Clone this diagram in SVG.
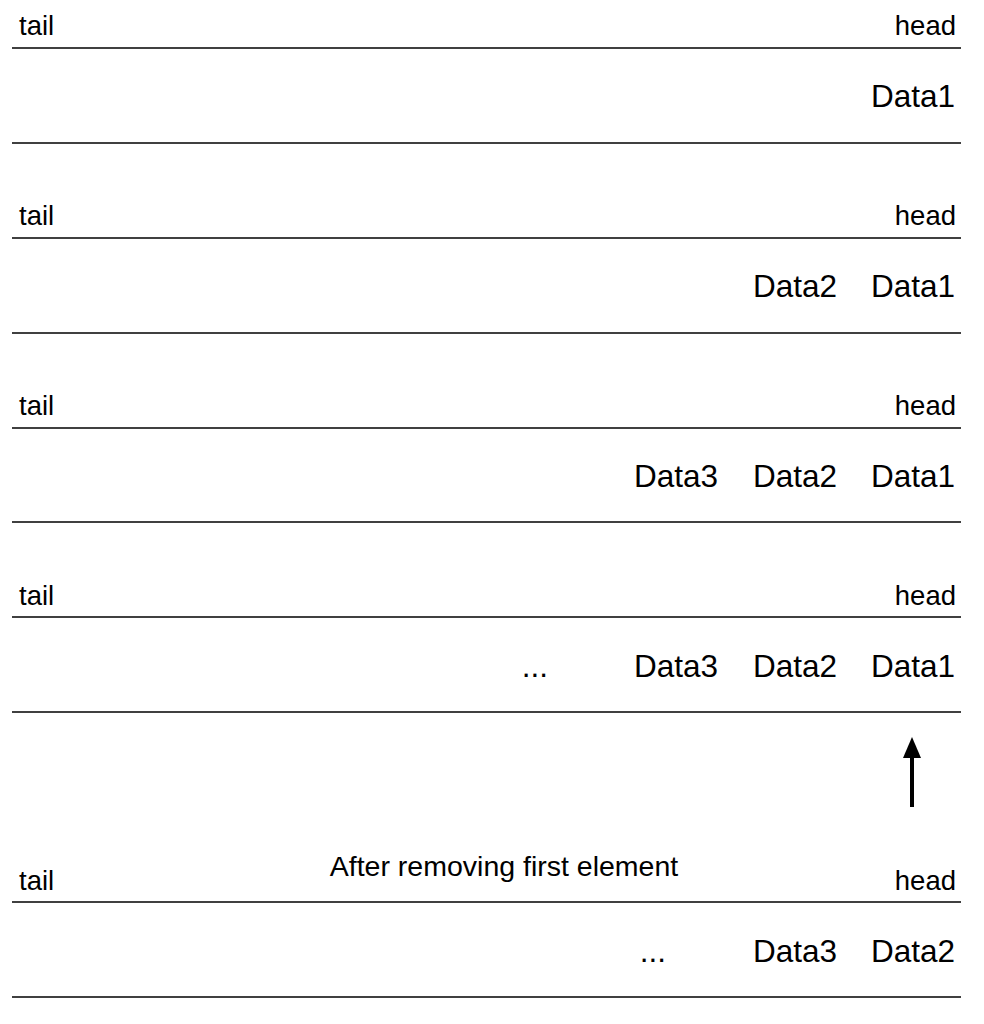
<svg xmlns="http://www.w3.org/2000/svg" width="984" height="1024" viewBox="0 0 984 1024">
<style>
.ln{stroke:#000;stroke-width:1.5}
.lbl{font-family:"Liberation Sans",Arial,sans-serif;font-size:27.5px;fill:#000}
.dat{font-family:"Liberation Sans",Arial,sans-serif;font-size:31.5px;fill:#000;text-anchor:end}
.e{text-anchor:end}
.cap{font-family:"Liberation Sans",Arial,sans-serif;font-size:28.5px;fill:#000;text-anchor:middle}
</style>
<rect width="984" height="1024" fill="#fff"/>
<g id="row1">
<line class="ln" x1="12" y1="48" x2="961" y2="48"/>
<line class="ln" x1="12" y1="143" x2="961" y2="143"/>
<text class="lbl" x="19" y="35">tail</text>
<text class="lbl e" x="956" y="35">head</text>
<text class="dat" x="955" y="107">Data1</text>
</g>
<g id="row2">
<line class="ln" x1="12" y1="238" x2="961" y2="238"/>
<line class="ln" x1="12" y1="333" x2="961" y2="333"/>
<text class="lbl" x="19" y="225">tail</text>
<text class="lbl e" x="956" y="225">head</text>
<text class="dat" x="955" y="297">Data1</text>
<text class="dat" x="837" y="297">Data2</text>
</g>
<g id="row3">
<line class="ln" x1="12" y1="428" x2="961" y2="428"/>
<line class="ln" x1="12" y1="522" x2="961" y2="522"/>
<text class="lbl" x="19" y="415">tail</text>
<text class="lbl e" x="956" y="415">head</text>
<text class="dat" x="955" y="487">Data1</text>
<text class="dat" x="837" y="487">Data2</text>
<text class="dat" x="718" y="487">Data3</text>
</g>
<g id="row4">
<line class="ln" x1="12" y1="617" x2="961" y2="617"/>
<line class="ln" x1="12" y1="712" x2="961" y2="712"/>
<text class="lbl" x="19" y="605">tail</text>
<text class="lbl e" x="956" y="605">head</text>
<text class="dat" x="955" y="677">Data1</text>
<text class="dat" x="837" y="677">Data2</text>
<text class="dat" x="718" y="677">Data3</text>
<text class="dat" x="548" y="677">...</text>
</g>
<g id="row5">
<line class="ln" x1="12" y1="902" x2="961" y2="902"/>
<line class="ln" x1="12" y1="997" x2="961" y2="997"/>
<text class="lbl" x="19" y="890">tail</text>
<text class="lbl e" x="956" y="890">head</text>
<text class="cap" x="504" y="876">After removing first element</text>
<text class="dat" x="955" y="962">Data2</text>
<text class="dat" x="837" y="962">Data3</text>
<text class="dat" x="666" y="962">...</text>
</g>
<g id="connectors">
<line x1="912" y1="807" x2="912" y2="756" stroke="#000" stroke-width="4"/>
<path d="M903,758 L912,737 L921,758 Z" fill="#000"/>
</g>
</svg>
